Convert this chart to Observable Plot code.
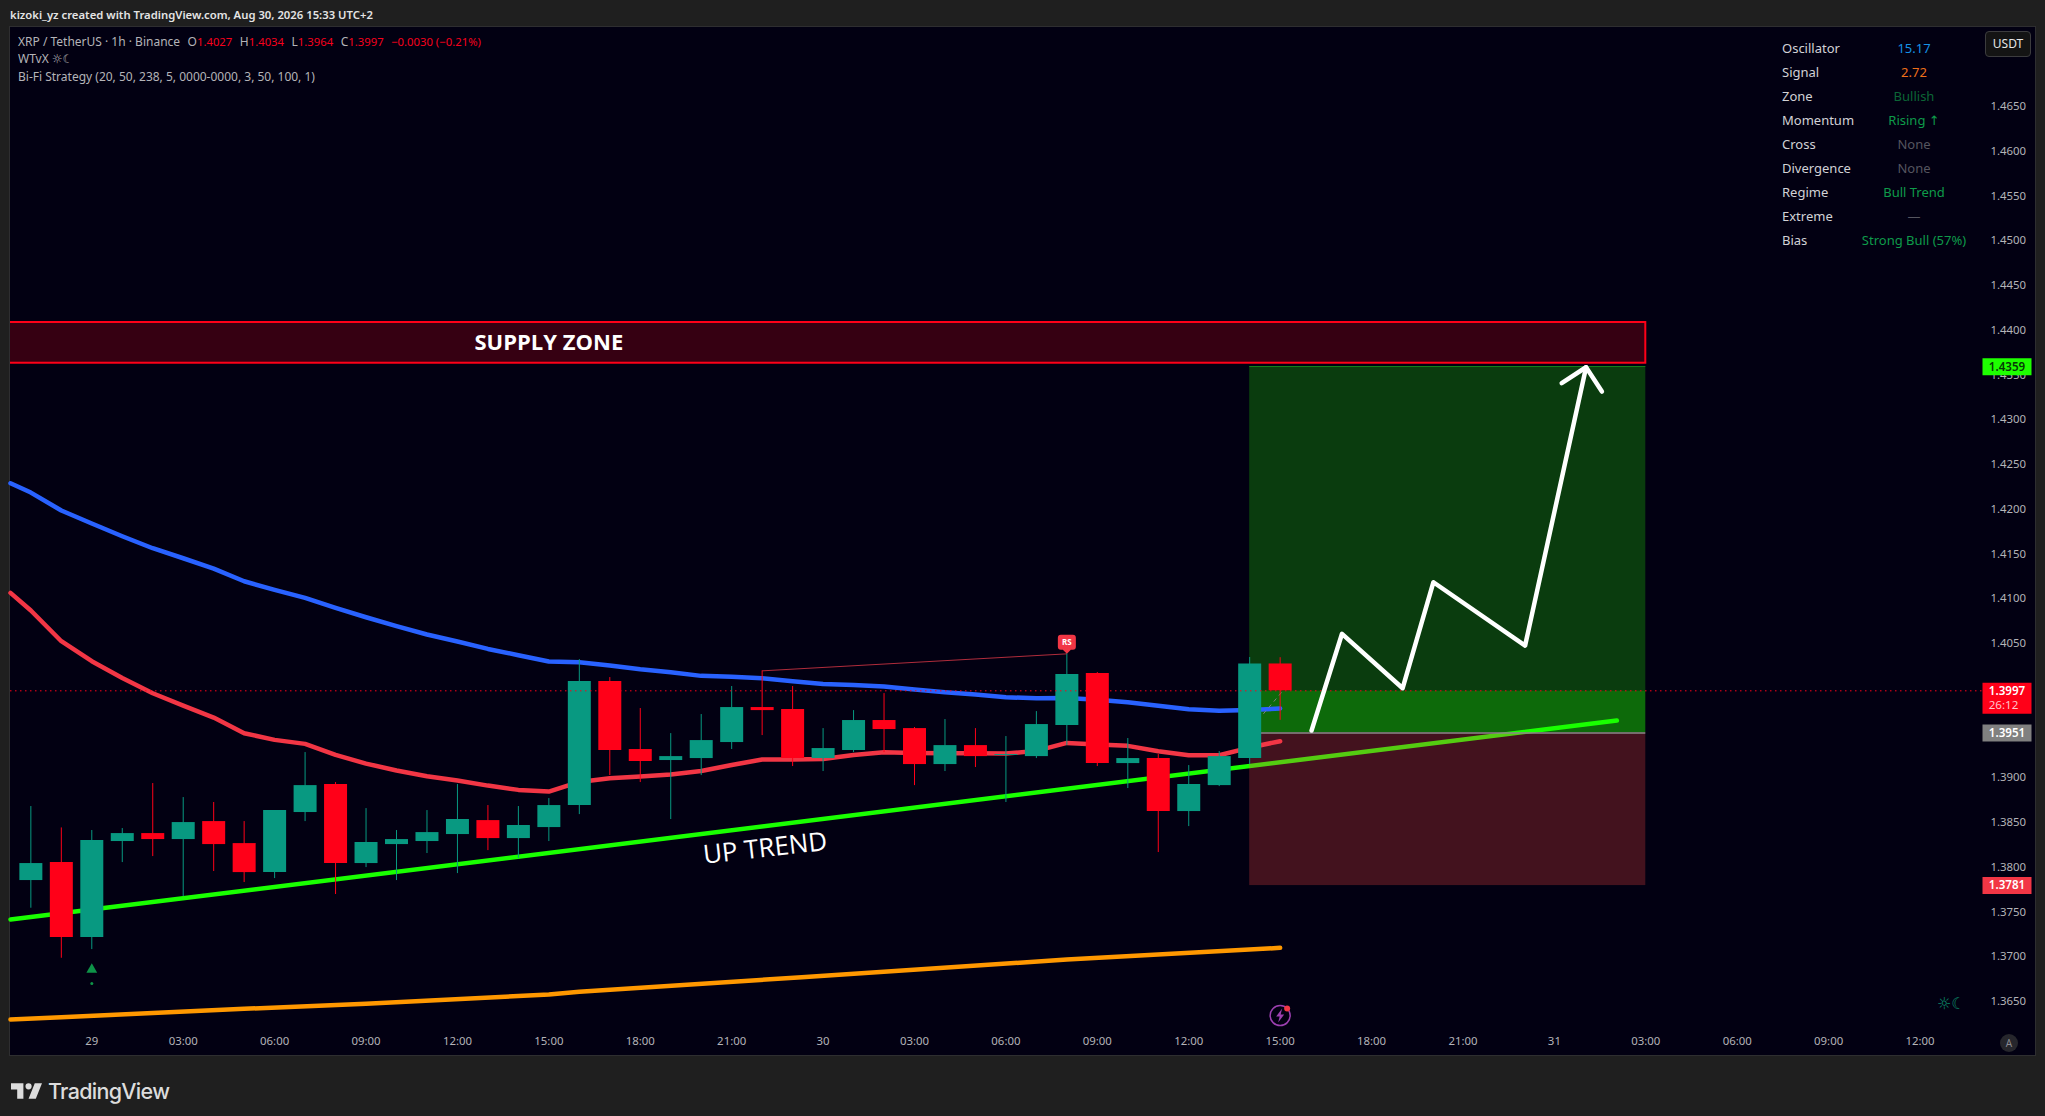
<!DOCTYPE html>
<html>
<head>
<meta charset="utf-8">
<script src="https://cdn.jsdelivr.net/npm/d3@7"></script>
<script src="https://cdn.jsdelivr.net/npm/@observablehq/plot@0.6"></script>
<style>
html,body{margin:0;padding:0;width:2045px;height:1116px;overflow:hidden;background:#1f1f1f;font-family:"Noto Sans",sans-serif}
#head{position:absolute;left:10px;top:7px;font-size:11.3px;font-weight:600;color:#e4e4e4;white-space:pre}
#pane{position:absolute;left:9px;top:26px;width:2025px;height:1028px;border:1px solid #2e2e30;background:#020012}
#chart{position:absolute;left:0;top:0}
#legend{position:absolute;left:18px;top:33px;font-size:12px;line-height:17px;color:#b4b4b8;white-space:pre}
#legend b{font-weight:400;font-size:11.3px;color:#f7001c}
#legend i{font-style:normal;margin-left:7.5px}
#status{position:absolute;left:0;top:0}
.lab,.val{position:absolute;font-size:13px;line-height:18px;white-space:pre}
.lab{left:1782px;color:#d2d2d6}
.val{left:1814px;width:200px;text-align:center}
.val span{font-family:"DejaVu Sans"}
#usdt{position:absolute;left:1985px;top:31px;width:44px;height:24px;border:1px solid #3c3c3e;border-radius:4px;background:#141414;color:#e6e6e6;font-size:12px;line-height:24px;text-align:center}
#auto{position:absolute;left:2000px;top:1034px;width:18px;height:18px;border-radius:50%;background:#26262c;color:#8a8a90;font-size:10px;line-height:18px;text-align:center}
#glyph{position:absolute;left:1937px;top:994px;font-family:"DejaVu Sans";font-size:16px;line-height:20px;color:#0c8a6a}
#logo{position:absolute;left:11px;top:1078px;display:flex;align-items:center;color:#dcdcdc}
#logo span{font-family:Inter,sans-serif;font-size:21.5px;font-weight:500;letter-spacing:-.7px;margin-left:6px}
</style>
</head>
<body>
<div id="head"></div>
<div id="pane"><div id="chart"></div></div>
<div id="legend"></div>
<div id="status"></div>
<div id="usdt">USDT</div>
<div id="auto">A</div>
<div id="glyph">☼☾</div>
<div id="logo"><svg width="31" height="16" viewBox="2 6 30 15"><path fill="#dcdcdc" d="M14 6H2v6h6v9h6V6Zm12 15h-7l6-15h7l-6 15Zm-7-9a3 3 0 1 0 0-6 3 3 0 0 0 0 6Z"/></svg><span>TradingView</span></div>
<script>
// ---- candles: hour offset from 29 Aug 00:00
const hours = [-2,-1,0,1,2,3,4,5,6,7,8,9,10,11,12,13,14,15,16,17,18,19,20,21,22,23,24,25,26,27,28,29,30,31,32,33,34,35,36,37,38,39];
const opens = [1.37850,1.38051,1.37213,1.38286,1.38375,1.38308,1.38509,1.38263,1.37939,1.38610,1.38923,1.38040,1.38252,1.38286,1.38364,1.38520,1.38319,1.38442,1.38688,1.40073,1.39314,1.39191,1.39213,1.39392,1.39783,1.39761,1.39213,1.39303,1.39638,1.39548,1.39146,1.39358,1.39247,1.39235,1.39582,1.40163,1.39157,1.39213,1.38621,1.38911,1.39213,1.4027];
const highs = [1.38677,1.38438,1.38409,1.38431,1.38934,1.38777,1.38722,1.38509,1.38632,1.39280,1.38945,1.38654,1.38409,1.38632,1.38923,1.38688,1.38677,1.38766,1.40319,1.40118,1.39772,1.39492,1.39705,1.40018,1.40193,1.40018,1.39548,1.39749,1.39939,1.39560,1.39649,1.39548,1.39459,1.39738,1.40383,1.40174,1.39437,1.39258,1.39135,1.39291,1.40342,1.4034];
const lows = [1.37541,1.36982,1.37079,1.38051,1.38118,1.37671,1.37951,1.37828,1.37872,1.38509,1.37694,1.37995,1.37850,1.38152,1.37928,1.38185,1.38096,1.38286,1.38587,1.39023,1.38945,1.38532,1.39023,1.39314,1.39470,1.39124,1.39068,1.39280,1.39280,1.38911,1.39068,1.39113,1.38722,1.39213,1.39358,1.39124,1.38878,1.38163,1.38453,1.38900,1.39146,1.3964];
const closes = [1.38040,1.37213,1.38297,1.38375,1.38308,1.38498,1.38252,1.37939,1.38632,1.38911,1.38040,1.38275,1.38308,1.38386,1.38532,1.38319,1.38465,1.38688,1.40073,1.39303,1.39180,1.39235,1.39414,1.39783,1.39749,1.39213,1.39325,1.39638,1.39537,1.39146,1.39358,1.39235,1.39258,1.39593,1.40152,1.39157,1.39213,1.38621,1.38923,1.39235,1.4027,1.3997];

// ---- moving averages (on hours, plus a first point at the left edge)
const edgeHour = -2.668;
const redLine = [1.40867,1.40524,1.40301,1.40114,1.39943,1.39805,1.39671,1.39496,1.39422,1.39377,1.39254,1.39157,1.39079,1.39016,1.38967,1.38911,1.38863,1.38844,1.38952,1.38993,1.39012,1.39034,1.39075,1.39142,1.39202,1.39202,1.39209,1.39254,1.39284,1.39276,1.39273,1.39273,1.39269,1.39299,1.39388,1.39370,1.39355,1.39295,1.39250,1.39250,1.39336,1.39407];
const redEdge = 1.41064;
const blueLine = [1.42185,1.41984,1.41839,1.41697,1.41563,1.41451,1.41336,1.41194,1.41098,1.41009,1.40897,1.40792,1.40692,1.40599,1.40521,1.40438,1.40368,1.40297,1.40289,1.40252,1.40211,1.40178,1.40137,1.40126,1.40111,1.40077,1.40047,1.40036,1.40018,1.39984,1.39954,1.39928,1.39898,1.39887,1.39891,1.39869,1.39843,1.39802,1.39764,1.39746,1.39757,1.39772];
const blueEdge = 1.42289;
const orangeHours = [-2.668,-1,5,9,15,16,23.3,32,39];
const orangeLine = [1.36297,1.36323,1.36417,1.36473,1.36577,1.36607,1.36770,1.36968,1.37098];
const trendHours = [-2.668,50.05];
const trendLine = [1.37414,1.39638];

// ---- drawings
const forecastHours = [40.03,41.03,43.02,44.03,47.04,49.04];
const forecastPrices = [1.39526,1.40607,1.39999,1.41183,1.40476,1.43585];
const arrowHours = [48.24,49.04,49.56];
const arrowPrices = [1.43407,1.43585,1.43314];
const zoneHours = [38,51];
const targetPrice = 1.43593, entryPrice = 1.39500, stopPrice = 1.37794, lastPrice = 1.3997;
const supplyPrices = [1.43630,1.44085];
const supplyHours = [-4,51];
const divergenceHours = [22,32], divergencePrices = [1.40193,1.40383];
const stubHours = [38.45,39.05], stubPrices = [1.39713,1.39954];

// ---- axes
const priceTicks = [1.365,1.37,1.375,1.38,1.385,1.39,1.395,1.40,1.405,1.41,1.415,1.42,1.425,1.43,1.435,1.44,1.445,1.45,1.455,1.46,1.465];
const timeTicks = [0,3,6,9,12,15,18,21,24,27,30,33,36,39,42,45,48,51,54,57,60];
const timeLabels = ["29","03:00","06:00","09:00","12:00","15:00","18:00","21:00","30","03:00","06:00","09:00","12:00","15:00","18:00","21:00","31","03:00","06:00","09:00","12:00"];

// ---- text
const headerText = "kizoki_yz created with TradingView.com, Aug 30, 2026 15:33 UTC+2";
const legendHtml = [
 'XRP / TetherUS · 1h · Binance<i></i>O<b>1.4027</b><i></i>H<b>1.4034</b><i></i>L<b>1.3964</b><i></i>C<b>1.3997</b><i></i><b>−0.0030 (−0.21%)</b>',
 'WTvX <span style="font-family:\'DejaVu Sans\'">☼☾</span>',
 'Bi-Fi Strategy (20, 50, 238, 5, 0000-0000, 3, 50, 100, 1)'];
const statusLabels = ["Oscillator","Signal","Zone","Momentum","Cross","Divergence","Regime","Extreme","Bias"];
const statusValues = ["15.17","2.72","Bullish","Rising ↑","None","None","Bull Trend","—","Strong Bull (57%)"];
const statusColors = ["#1592e6","#f0701a","#0c6636","#0e9b4a","#55555f","#55555f","#0e9b4a","#55555f","#0e9b4a"];

const candles = hours.map((h,i)=>({h,open:opens[i],high:highs[i],low:lows[i],close:closes[i]}));
const series = (xs,ys)=>xs.map((h,i)=>({h,v:ys[i]}));
const red = [{h:edgeHour,v:redEdge},...series(hours,redLine)];
const blue = [{h:edgeHour,v:blueEdge},...series(hours,blueLine)];
const orange = series(orangeHours,orangeLine);
const trend = series(trendHours,trendLine);
const forecast = series(forecastHours,forecastPrices);
const arrow = series(arrowHours,arrowPrices);
const up = "#089981", down = "#ff0018";

const box = (w,top,bottom)=>({draw(c){c.moveTo(-w/2,top);c.lineTo(w/2,top);c.lineTo(w/2,bottom);c.lineTo(-w/2,bottom);c.closePath();}});
const pin = {draw(c){const r=3;c.moveTo(-9+r,-19);c.lineTo(9-r,-19);c.arcTo(9,-19,9,-19+r,r);c.lineTo(9,-7);c.arcTo(9,-4,9-r,-4,r);c.lineTo(4,-4);c.lineTo(0,0);c.lineTo(-4,-4);c.lineTo(-9+r,-4);c.arcTo(-9,-4,-9,-7,r);c.lineTo(-9,-19+r);c.arcTo(-9,-19,-9+r,-19,r);c.closePath();}};
const bolt = {draw(c){c.moveTo(2,-7);c.lineTo(-4,1);c.lineTo(-0.5,1);c.lineTo(-2,7);c.lineTo(4,-1);c.lineTo(0.5,-1);c.closePath();}};

const lineStyle = {x:"h",y:"v",strokeWidth:4.5,strokeLinecap:"round",strokeLinejoin:"round"};
const tags = [
 {price:1.4359,label:"1.4359",bg:"#1eff00",fg:"#063a06"},
 {price:1.3950,label:"1.3951",bg:"#808080",fg:"#ffffff"},
 {price:1.37794,label:"1.3781",bg:"#f23645",fg:"#ffffff"}
];

const plot = Plot.plot({
  width:2025,height:1028,marginLeft:0,marginRight:53,marginTop:0,marginBottom:32,
  style:{background:"transparent",fontFamily:'"Noto Sans",sans-serif',fontSize:"12px",overflow:"visible"},
  x:{type:"linear",domain:[-2.668,62.05],axis:null},
  y:{type:"linear",domain:[1.36253,1.47381],axis:null},
  marks:[
    Plot.axisY({ticks:priceTicks,anchor:"right",tickSize:0,tickPadding:8,tickFormat:d3.format(".4f"),label:null,fill:"#b4b4b8",fontSize:11.4}),
    Plot.axisX({ticks:timeTicks,anchor:"bottom",tickSize:0,tickPadding:13.5,tickFormat:d=>timeLabels[timeTicks.indexOf(d)],label:null,fill:"#b4b4b8",fontSize:11.4}),
    // position tool: profit side
    Plot.rect([{a:lastPrice,b:targetPrice}],{x1:()=>zoneHours[0],x2:()=>zoneHours[1],y1:"a",y2:"b",fill:"#0a3c0e"}),
    Plot.rect([{a:entryPrice,b:lastPrice}],{x1:()=>zoneHours[0],x2:()=>zoneHours[1],y1:"a",y2:"b",fill:"#0d6a0a"}),
    Plot.ruleY([targetPrice],{x1:zoneHours[0],x2:zoneHours[1],stroke:"#17801a",strokeWidth:1}),
    // supply zone
    Plot.rect([{a:supplyPrices[0],b:supplyPrices[1]}],{x1:()=>supplyHours[0],x2:()=>supplyHours[1],y1:"a",y2:"b",fill:"#360012",stroke:down,strokeWidth:2,clip:true}),
    Plot.text(["SUPPLY ZONE"],{x:()=>15,y:()=>1.43854,text:d=>d,fill:"#ffffff",fontSize:22,fontWeight:700,fontFamily:'"Open Sans"'}),
    // trend line then stop side over it
    Plot.line(trend,{...lineStyle,stroke:"#19ff00"}),
    Plot.rect([{a:stopPrice,b:entryPrice}],{x1:()=>zoneHours[0],x2:()=>zoneHours[1],y1:"a",y2:"b",fill:"#f3433f",fillOpacity:.27}),
    Plot.ruleY([entryPrice],{x1:zoneHours[0],x2:zoneHours[1],stroke:"#8a8a8a",strokeWidth:1.5}),
    // moving averages
    Plot.line(orange,{...lineStyle,stroke:"#ff9800"}),
    Plot.line(blue,{...lineStyle,stroke:"#2962ff"}),
    Plot.line(red,{...lineStyle,stroke:"#f23645"}),
    // divergence line and stop stub
    Plot.link([{}],{x1:()=>divergenceHours[0],x2:()=>divergenceHours[1],y1:()=>divergencePrices[0],y2:()=>divergencePrices[1],stroke:"#b02c3c",strokeWidth:1}),
    Plot.link([{}],{x1:()=>stubHours[0],x2:()=>stubHours[1],y1:()=>stubPrices[0],y2:()=>stubPrices[1],stroke:"#808080",strokeWidth:1,strokeDasharray:"4,4"}),
    // candles
    Plot.ruleX(candles,{filter:d=>d.close>=d.open,x:"h",y1:"low",y2:"high",stroke:up,strokeWidth:1}),
    Plot.ruleX(candles,{filter:d=>d.close<d.open,x:"h",y1:"low",y2:"high",stroke:down,strokeWidth:1}),
    Plot.ruleX(candles,{filter:d=>d.close>=d.open,x:"h",y1:"open",y2:"close",stroke:up,strokeWidth:23}),
    Plot.ruleX(candles,{filter:d=>d.close<d.open,x:"h",y1:"open",y2:"close",stroke:down,strokeWidth:23}),
    Plot.ruleY([lastPrice],{stroke:down,strokeWidth:1,strokeDasharray:"1.5,3.5"}),
    // forecast path
    Plot.line(forecast,{x:"h",y:"v",stroke:"#ffffff",strokeWidth:4.5,strokeLinecap:"round",strokeLinejoin:"round"}),
    Plot.line(arrow,{x:"h",y:"v",stroke:"#ffffff",strokeWidth:4.5,strokeLinecap:"round",strokeLinejoin:"round"}),
    Plot.text(["UP TREND"],{x:()=>22.1,y:()=>1.38208,text:d=>d,rotate:-6.5,fill:"#ffffff",fontSize:26,fontWeight:500,fontFamily:'"Open Sans"'}),
    // markers
    Plot.dot([{}],{x:()=>32,y:()=>1.40383,symbol:pin,fill:"#f23645",stroke:"none"}),
    Plot.text(["RS"],{x:()=>32,y:()=>1.40383,dy:-11,text:d=>d,fill:"#ffffff",fontSize:8,fontWeight:700}),
    Plot.dot([{}],{x:()=>0,y:()=>1.36856,symbol:"triangle",r:4,fill:"#0e9348",stroke:"none"}),
    Plot.dot([{}],{x:()=>0,y:()=>1.36699,r:1.5,fill:"#0e9348",stroke:"none"}),
    // lightning marker
    Plot.dot([{}],{x:()=>39,y:()=>1.36342,r:10,fill:"none",stroke:"#9c3fb0",strokeWidth:1.5}),
    Plot.dot([{}],{x:()=>39,y:()=>1.36342,symbol:bolt,fill:"#9c3fb0",stroke:"none"}),
    Plot.dot([{}],{x:()=>39,y:()=>1.36342,dx:7,dy:-7,r:3,fill:"#f23645",stroke:"none"}),
    // price tags
    Plot.dot([{}],{frameAnchor:"right",y:()=>lastPrice,dx:24.5,symbol:box(49,-8,23),fill:down,stroke:"none"}),
    Plot.text(["1.3997"],{frameAnchor:"right",y:()=>lastPrice,dx:24.5,textAnchor:"middle",text:d=>d,fill:"#ffffff",fontWeight:600,fontSize:11.6}),
    Plot.text(["26:12"],{frameAnchor:"right",y:()=>lastPrice,dx:21,dy:14.5,textAnchor:"middle",text:d=>d,fill:"#ffc4cc",fontSize:11.6}),
    Plot.dot(tags,{frameAnchor:"right",y:"price",dx:24.5,symbol:box(49,-8.5,8.5),fill:"bg",stroke:"none"}),
    Plot.text(tags,{frameAnchor:"right",y:"price",dx:24.5,textAnchor:"middle",text:"label",fill:"fg",fontWeight:600,fontSize:11.6})
  ]
});
document.getElementById("chart").appendChild(plot);
document.getElementById("head").textContent = headerText;
document.getElementById("legend").innerHTML = legendHtml.join("\n");
const statusEl = document.getElementById("status");
statusLabels.forEach((t,i)=>{
  const top = 39 + i*24;
  const a = document.createElement("div"); a.className="lab"; a.style.top=top+"px"; a.textContent=t; statusEl.appendChild(a);
  const b = document.createElement("div"); b.className="val"; b.style.top=top+"px"; b.style.color=statusColors[i];
  b.innerHTML = statusValues[i].replace("↑","<span>↑</span>"); statusEl.appendChild(b);
});
</script>
</body>
</html>
